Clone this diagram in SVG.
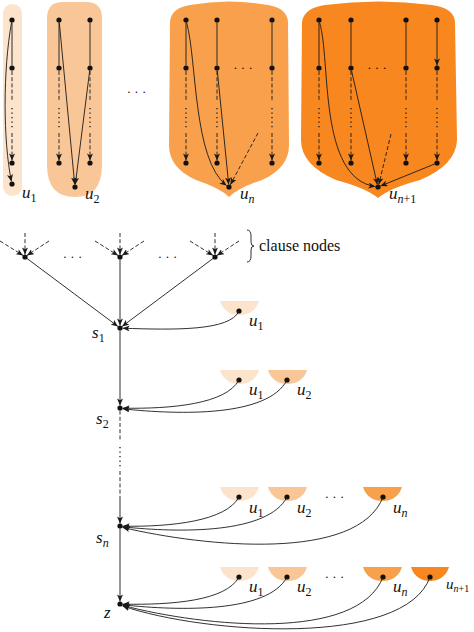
<svg xmlns="http://www.w3.org/2000/svg" width="474" height="632" viewBox="0 0 474 632">
<defs>
<marker id="ah" markerUnits="userSpaceOnUse" markerWidth="8" markerHeight="6" refX="7" refY="3" orient="auto">
<path d="M0,0 L7,3 L0,6 L1.8,3 Z" fill="#1a1a1a"/>
</marker>
<style>
.n{fill:#111}
.e{fill:none;stroke:#1a1a1a;stroke-width:0.9}
.a{marker-end:url(#ah)}
.d{stroke-dasharray:4 2.2}
.o{stroke-dasharray:1.3 3.2;stroke-width:1.3}
text{font-family:'Liberation Serif','Times New Roman','DejaVu Serif',serif}
.t{font-size:17px;font-style:italic;fill:#111}
.sb{font-size:12px}
.up{font-style:normal}
.r{font-size:16px;fill:#111}
.dots{font-size:13px;fill:#111;text-anchor:middle}
.c1{fill:#fce3cc}
.c2{fill:#f9c797}
.c3{fill:#f8a04b}
.c4{fill:#f7871e}
</style>
</defs>
<rect width="474" height="632" fill="#fff"/>

<g id="blob-u1">
<rect class="c1" x="3" y="4" width="19" height="192" rx="9.5"/>
<circle class="n" cx="12" cy="20" r="2.6"/><circle class="n" cx="12" cy="68" r="2.6"/><circle class="n" cx="12" cy="163" r="2.6"/><circle class="n" cx="12" cy="184" r="2.6"/>
<text class="t" x="22" y="198" font-family="Liberation Serif, serif">u<tspan class="sb up" dy="4">1</tspan></text>
</g>
<g id="blob-u2">
<path class="c2" d="M63,2 L86,2 Q102,2 102,18 L102,165 Q102,197 75,197 Q47,197 47,165 L47,18 Q47,2 63,2 Z"/>
<circle class="n" cx="59" cy="20" r="2.6"/><circle class="n" cx="59" cy="68" r="2.6"/><circle class="n" cx="59" cy="163" r="2.6"/>
<circle class="n" cx="90" cy="20" r="2.6"/><circle class="n" cx="90" cy="68" r="2.6"/><circle class="n" cx="90" cy="163" r="2.6"/>
<circle class="n" cx="75" cy="187" r="2.6"/>
<text class="t" x="85" y="199" font-family="Liberation Serif, serif">u<tspan class="sb up" dy="4">2</tspan></text>
</g>
<g id="blob-un">
<path class="c3" d="M170,22 Q171,8 190,5 Q229,-2 268,5 Q287,8 288,22 L289,145 Q289,168 262,180 Q238,188 229,197 Q220,188 196,180 Q169,168 169,145 Z"/>
<circle class="n" cx="186" cy="20" r="2.6"/><circle class="n" cx="186" cy="68" r="2.6"/><circle class="n" cx="186" cy="163" r="2.6"/>
<circle class="n" cx="217" cy="20" r="2.6"/><circle class="n" cx="217" cy="68" r="2.6"/><circle class="n" cx="217" cy="163" r="2.6"/>
<circle class="n" cx="272" cy="20" r="2.6"/><circle class="n" cx="272" cy="68" r="2.6"/><circle class="n" cx="272" cy="163" r="2.6"/>
<circle class="n" cx="229" cy="187" r="2.6"/>
<text class="dots" x="243" y="72">· · ·</text>
<text class="t" x="240" y="199" font-family="Liberation Serif, serif">u<tspan class="sb" dy="4">n</tspan></text>
</g>
<g id="blob-un1">
<path class="c4" d="M302,22 Q304,8 325,5 Q378,-2 432,5 Q454,8 455,22 L457,140 Q456,165 420,180 Q390,188 378,198 Q366,188 336,180 Q301,165 301,140 Z"/>
<circle class="n" cx="319" cy="20" r="2.6"/><circle class="n" cx="319" cy="68" r="2.6"/><circle class="n" cx="319" cy="163" r="2.6"/>
<circle class="n" cx="351" cy="20" r="2.6"/><circle class="n" cx="351" cy="68" r="2.6"/><circle class="n" cx="351" cy="163" r="2.6"/>
<circle class="n" cx="406" cy="20" r="2.6"/><circle class="n" cx="406" cy="68" r="2.6"/><circle class="n" cx="406" cy="163" r="2.6"/>
<circle class="n" cx="437" cy="20" r="2.6"/><circle class="n" cx="437" cy="68" r="2.6"/><circle class="n" cx="437" cy="163" r="2.6"/>
<circle class="n" cx="378" cy="187" r="2.6"/>
<text class="dots" x="377" y="72">· · ·</text>
<text class="t" x="389" y="199" font-family="Liberation Serif, serif">u<tspan class="sb" dy="4">n</tspan><tspan class="sb up">+1</tspan></text>
</g>
<text class="dots" x="136.5" y="96">· · ·</text>

<g id="clause1"><circle class="n" cx="25" cy="257" r="2.6"/></g>
<g id="clause2"><circle class="n" cx="120" cy="257" r="2.6"/></g>
<g id="clause3"><circle class="n" cx="215" cy="257" r="2.6"/></g>
<text class="dots" x="72.5" y="261">· · ·</text>
<text class="dots" x="167.5" y="261">· · ·</text>
<g id="clause-brace">
<path class="e" d="M247,230 Q251,230 251,236 L251,242 Q251,246 254,246 Q251,246 251,250 L251,256 Q251,262 247,262"/>
<text class="r" x="259" y="251" font-family="Liberation Serif, serif">clause nodes</text>
</g>
<g id="s1"><circle class="n" cx="120" cy="328" r="2.6"/><text class="t" x="92" y="338" font-family="Liberation Serif, serif">s<tspan class="sb up" dy="4">1</tspan></text></g>
<g id="s2"><circle class="n" cx="120" cy="408" r="2.6"/><text class="t" x="96" y="424" font-family="Liberation Serif, serif">s<tspan class="sb up" dy="4">2</tspan></text></g>
<g id="sn"><circle class="n" cx="120" cy="526" r="2.6"/><text class="t" x="96" y="543" font-family="Liberation Serif, serif">s<tspan class="sb" dy="4">n</tspan></text></g>
<g id="z"><circle class="n" cx="120" cy="604" r="2.6"/><text class="t" x="104" y="618" font-family="Liberation Serif, serif">z</text></g>

<g id="r1-u1"><path class="c1" d="M220,301 L259,301 C256,311 248,315 239.5,315 C231,315 223,311 220,301 Z"/><circle class="n" cx="239" cy="311" r="2.6"/><text class="t" x="249" y="326" font-family="Liberation Serif, serif">u<tspan class="sb up" dy="4">1</tspan></text></g>

<g id="r2-u1"><path class="c1" d="M220,370 L259,370 C256,380 248,384 239.5,384 C231,384 223,380 220,370 Z"/><circle class="n" cx="239" cy="380" r="2.6"/><text class="t" x="249" y="395" font-family="Liberation Serif, serif">u<tspan class="sb up" dy="4">1</tspan></text></g>
<g id="r2-u2"><path class="c2" d="M268,370 L307,370 C304,380 296,384 287.5,384 C279,384 271,380 268,370 Z"/><circle class="n" cx="287" cy="380" r="2.6"/><text class="t" x="297" y="395" font-family="Liberation Serif, serif">u<tspan class="sb up" dy="4">2</tspan></text></g>

<g id="r3-u1"><path class="c1" d="M220,487 L259,487 C256,497 248,501 239.5,501 C231,501 223,497 220,487 Z"/><circle class="n" cx="239" cy="497" r="2.6"/><text class="t" x="249" y="513" font-family="Liberation Serif, serif">u<tspan class="sb up" dy="4">1</tspan></text></g>
<g id="r3-u2"><path class="c2" d="M268,487 L307,487 C304,497 296,501 287.5,501 C279,501 271,497 268,487 Z"/><circle class="n" cx="287" cy="497" r="2.6"/><text class="t" x="297" y="513" font-family="Liberation Serif, serif">u<tspan class="sb up" dy="4">2</tspan></text></g>
<g id="r3-un"><path class="c3" d="M363,487 L402,487 C399,497 391,501 382.5,501 C374,501 366,497 363,487 Z"/><circle class="n" cx="383" cy="497" r="2.6"/><text class="t" x="393" y="513" font-family="Liberation Serif, serif">u<tspan class="sb" dy="4">n</tspan></text></g>
<text class="dots" x="334.5" y="501">· · ·</text>

<g id="r4-u1"><path class="c1" d="M220,567 L259,567 C256,577 248,581 239.5,581 C231,581 223,577 220,567 Z"/><circle class="n" cx="239" cy="577" r="2.6"/><text class="t" x="249" y="592" font-family="Liberation Serif, serif">u<tspan class="sb up" dy="4">1</tspan></text></g>
<g id="r4-u2"><path class="c2" d="M268,567 L307,567 C304,577 296,581 287.5,581 C279,581 271,577 268,567 Z"/><circle class="n" cx="287" cy="577" r="2.6"/><text class="t" x="297" y="592" font-family="Liberation Serif, serif">u<tspan class="sb up" dy="4">2</tspan></text></g>
<g id="r4-un"><path class="c3" d="M363,567 L402,567 C399,577 391,581 382.5,581 C374,581 366,577 363,567 Z"/><circle class="n" cx="383" cy="577" r="2.6"/><text class="t" x="393" y="592" font-family="Liberation Serif, serif">u<tspan class="sb" dy="4">n</tspan></text></g>
<g id="r4-un1"><path class="c4" d="M411,567 L449,567 C446,577 438,581 430,581 C422,581 414,577 411,567 Z"/><circle class="n" cx="430" cy="577" r="2.6"/><text class="t" x="446" y="589" font-size="15" style="font-size:15px" font-family="Liberation Serif, serif">u<tspan dy="3" style="font-size:10px">n</tspan><tspan class="up" style="font-size:10px">+1</tspan></text></g>
<text class="dots" x="334.5" y="581">· · ·</text>

<g id="connectors">
<path class="e a" d="M12,22.6 L12,65.4 M59,22.6 L59,65.4 M90,22.6 L90,65.4 M186,22.6 L186,65.4 M217,22.6 L217,65.4 M272,22.6 L272,65.4 M319,22.6 L319,65.4 M351,22.6 L351,65.4 M406,22.6 L406,65.4 M437,22.6 L437,65.4"/>
<path class="e d" d="M12,71 L12,101 M59,71 L59,101 M90,71 L90,101 M186,71 L186,101 M217,71 L217,101 M272,71 L272,101 M319,71 L319,101 M351,71 L351,101 M406,71 L406,101 M437,71 L437,101"/>
<path class="e o" d="M12,108 L12,128 M59,108 L59,128 M90,108 L90,128 M186,108 L186,128 M217,108 L217,128 M272,108 L272,128 M319,108 L319,128 M351,108 L351,128 M406,108 L406,128 M437,108 L437,128"/>
<path class="e d a" d="M12,133 L12,160.4"/><path class="e d a" d="M59,133 L59,160.4"/><path class="e d a" d="M90,133 L90,160.4"/>
<path class="e d a" d="M186,133 L186,160.4"/><path class="e d a" d="M217,133 L217,160.4"/><path class="e d a" d="M272,133 L272,160.4"/>
<path class="e d a" d="M319,133 L319,160.4"/><path class="e d a" d="M351,133 L351,160.4"/><path class="e d a" d="M406,133 L406,160.4"/><path class="e d a" d="M437,133 L437,160.4"/>
<path class="e a" d="M11.5,22.6 C3,70 3,140 11.4,181.4"/>
<path class="e a" d="M59.3,22.6 L74.7,184.4"/>
<path class="e a" d="M89.7,70.6 L75.3,184.4"/>
<path class="e a" d="M186.6,22.6 C197,60 193,160 226.6,185.6"/>
<path class="e a" d="M217.3,70.6 L228.7,184.4"/>
<path class="e d a" d="M258,133 L230.4,184.7"/>
<path class="e a" d="M319.6,22.6 C331,60 318,178 375.4,186.6"/>
<path class="e a" d="M351.5,70.6 L377.3,184.5"/>
<path class="e d a" d="M391,134 L378.8,184.5"/>
<path class="e a" d="M434.6,164 L380.5,186"/>
<path class="e d a" d="M0,241 L23,255.4"/><path class="e d a" d="M25,233 L25,254.4"/><path class="e d a" d="M49,241 L27,255.4"/>
<path class="e d a" d="M95,241 L118,255.4"/><path class="e d a" d="M120,233 L120,254.4"/><path class="e d a" d="M144,241 L122,255.4"/>
<path class="e d a" d="M190,241 L213,255.4"/><path class="e d a" d="M215,233 L215,254.4"/><path class="e d a" d="M239,241 L217,255.4"/>
<path class="e a" d="M25,257 L117.9,326.4"/>
<path class="e a" d="M120,259.6 L120,325.4"/>
<path class="e a" d="M215,257 L122.1,326.4"/>
<path class="e a" d="M120,330.6 L120,405.4"/>
<path class="e d" d="M120,410.6 L120,441"/>
<path class="e o" d="M120,447 L120,467"/>
<path class="e d" d="M120,471 L120,498"/>
<path class="e a" d="M120,498 L120,523.4"/>
<path class="e a" d="M120,528.6 L120,601.4"/>
<path class="e a" d="M239,311 C230,331 175,330 122.6,328.2"/>
<path class="e a" d="M239,380 C226,404 172,409 122.6,408.2"/>
<path class="e a" d="M287,380 C268,417 180,415 122.6,408.8"/>
<path class="e a" d="M239,497 C226,521 172,527 122.6,526.2"/>
<path class="e a" d="M287,497 C268,534 180,533 122.6,526.8"/>
<path class="e a" d="M383,497 C358,562 205,547 122.6,527.4"/>
<path class="e a" d="M239,577 C226,601 172,605 122.6,604.2"/>
<path class="e a" d="M287,577 C268,613 180,611 122.6,604.8"/>
<path class="e a" d="M383,577 C358,642 205,627 122.6,605.4"/>
<path class="e a" d="M430,577 C405,648 205,634 122.6,606"/>
</g>
</svg>
